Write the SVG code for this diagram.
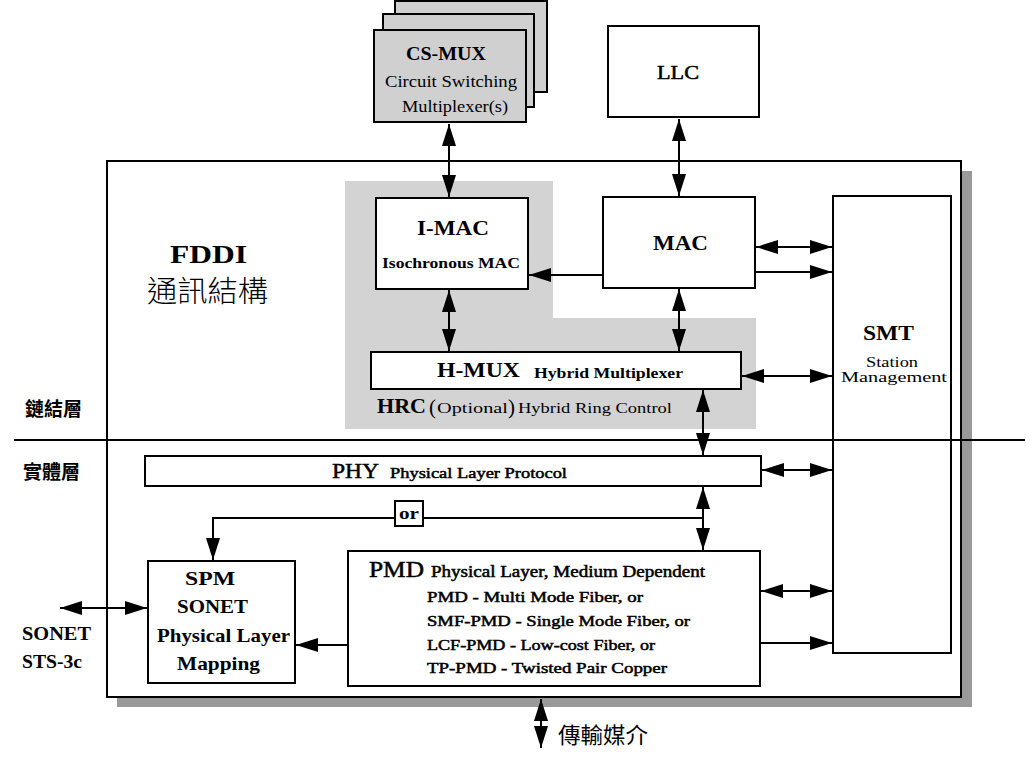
<svg xmlns="http://www.w3.org/2000/svg" width="1026" height="780" viewBox="0 0 1026 780">
<style>
.box{fill:#fff;stroke:#000;stroke-width:2}
.gbox{fill:#d0d0d0;stroke:#000;stroke-width:2}
.ln{fill:none;stroke:#000;stroke-width:2}
.arr{marker-end:url(#ah)}
.dbl{marker-start:url(#ah);marker-end:url(#ah)}
text{font-family:"Liberation Serif","Noto Serif",serif;fill:#000}
.b{font-weight:bold}
.m{stroke:#000;stroke-width:0.5}
.cjk{font-family:"Noto Sans CJK TC","Noto Sans CJK SC",sans-serif}
</style>
<defs>
<marker id="ah" markerUnits="userSpaceOnUse" markerWidth="22" markerHeight="14" refX="22" refY="7" orient="auto-start-reverse"><path d="M0,0 L22,7 L0,14 Z" fill="#000"/></marker>
</defs>
<rect width="1026" height="780" fill="#fff"/>
<g id="frame">
<rect x="117" y="171" width="855" height="536" fill="#999"/>
<rect class="box" x="107" y="161" width="854" height="536"/>
<polygon points="345,181 553,181 553,318 756,318 756,429 345,429" fill="#d3d3d3"/>
</g>
<g id="labels">
<text class="b" x="170" y="263" font-size="26" textLength="77" lengthAdjust="spacingAndGlyphs">FDDI</text>
<text class="cjk" x="147" y="302" font-size="29" font-weight="300" textLength="121" lengthAdjust="spacingAndGlyphs">通訊結構</text>
<text class="cjk" x="25" y="416" font-size="19" font-weight="bold" textLength="57" lengthAdjust="spacingAndGlyphs">鏈結層</text>
<text class="cjk" x="23" y="479" font-size="19" font-weight="bold" textLength="57" lengthAdjust="spacingAndGlyphs">實體層</text>
<text class="b" x="22" y="640" font-size="19" textLength="69" lengthAdjust="spacingAndGlyphs">SONET</text>
<text class="b" x="22" y="668" font-size="19" textLength="60" lengthAdjust="spacingAndGlyphs">STS-3c</text>
<text class="cjk" x="558" y="743" font-size="22" textLength="90" lengthAdjust="spacingAndGlyphs">傳輸媒介</text>
</g>
<g id="csmux">
<rect class="gbox" x="395" y="1" width="152" height="91"/>
<rect class="gbox" x="383" y="14" width="151" height="93"/>
<rect class="gbox" x="374" y="30" width="152" height="92"/>
<text class="b" x="406" y="60" font-size="19" textLength="80" lengthAdjust="spacingAndGlyphs">CS-MUX</text>
<text x="385" y="87" font-size="16" textLength="132" lengthAdjust="spacingAndGlyphs">Circuit Switching</text>
<text x="402" y="112" font-size="16" textLength="106" lengthAdjust="spacingAndGlyphs">Multiplexer(s)</text>
</g>
<g id="llc">
<rect class="box" x="608" y="26" width="151" height="91"/>
<text class="m" x="657" y="79" font-size="19" textLength="42" lengthAdjust="spacingAndGlyphs">LLC</text>
</g>
<g id="imac">
<rect class="box" x="376" y="198" width="152" height="91"/>
<text class="b" x="417" y="235" font-size="21" textLength="72" lengthAdjust="spacingAndGlyphs">I-MAC</text>
<text class="b" x="382" y="268" font-size="14" textLength="138" lengthAdjust="spacingAndGlyphs">Isochronous MAC</text>
</g>
<g id="mac">
<rect class="box" x="603" y="197" width="152" height="91"/>
<text class="b" x="653" y="250" font-size="21" textLength="55" lengthAdjust="spacingAndGlyphs">MAC</text>
</g>
<g id="hmux">
<rect class="box" x="371" y="352" width="370" height="37"/>
<text class="b" x="437" y="377" font-size="22" textLength="83" lengthAdjust="spacingAndGlyphs">H-MUX</text>
<text class="b" x="534" y="378" font-size="15" textLength="149" lengthAdjust="spacingAndGlyphs">Hybrid Multiplexer</text>
</g>
<g id="hrc">
<text class="b" x="377" y="413" font-size="21" textLength="49" lengthAdjust="spacingAndGlyphs">HRC</text>
<text x="429" y="414" font-size="21">(</text>
<text x="437" y="413" font-size="14" textLength="71" lengthAdjust="spacingAndGlyphs">Optional</text>
<text x="508" y="414" font-size="21">)</text>
<text x="518" y="413" font-size="15" textLength="154" lengthAdjust="spacingAndGlyphs">Hybrid Ring Control</text>
</g>
<g id="smt">
<rect class="box" x="833" y="196" width="118" height="457"/>
<text class="b" x="863" y="340" font-size="20" textLength="51" lengthAdjust="spacingAndGlyphs">SMT</text>
<text x="866" y="367" font-size="15" textLength="52" lengthAdjust="spacingAndGlyphs">Station</text>
<text x="841" y="382" font-size="15" textLength="106" lengthAdjust="spacingAndGlyphs">Management</text>
</g>
<g id="phy">
<rect class="box" x="145" y="456" width="616" height="30"/>
<text class="m" x="332" y="478" font-size="22" textLength="47" lengthAdjust="spacingAndGlyphs">PHY</text>
<text class="m" x="390" y="478" font-size="15" textLength="177" lengthAdjust="spacingAndGlyphs">Physical Layer Protocol</text>
</g>
<g id="pmd">
<rect class="box" x="348" y="551" width="412" height="135"/>
<text class="m" x="369" y="577" font-size="23" textLength="55" lengthAdjust="spacingAndGlyphs">PMD</text>
<text class="m" x="431" y="577" font-size="16" textLength="274" lengthAdjust="spacingAndGlyphs">Physical Layer, Medium Dependent</text>
<text class="m" x="427" y="602" font-size="15" textLength="216" lengthAdjust="spacingAndGlyphs">PMD - Multi Mode Fiber, or</text>
<text class="m" x="427" y="626" font-size="15" textLength="263" lengthAdjust="spacingAndGlyphs">SMF-PMD - Single Mode Fiber, or</text>
<text class="m" x="427" y="650" font-size="15" textLength="228" lengthAdjust="spacingAndGlyphs">LCF-PMD - Low-cost Fiber, or</text>
<text class="m" x="427" y="673" font-size="15" textLength="240" lengthAdjust="spacingAndGlyphs">TP-PMD - Twisted Pair Copper</text>
</g>
<g id="spm">
<rect class="box" x="148" y="561" width="147" height="122"/>
<text class="b" x="185" y="585" font-size="19" textLength="50" lengthAdjust="spacingAndGlyphs">SPM</text>
<text class="b" x="177" y="613" font-size="19" textLength="71" lengthAdjust="spacingAndGlyphs">SONET</text>
<text class="b" x="157" y="642" font-size="19" textLength="133" lengthAdjust="spacingAndGlyphs">Physical Layer</text>
<text class="b" x="177" y="670" font-size="19" textLength="83" lengthAdjust="spacingAndGlyphs">Mapping</text>
</g>
<g id="connectors">
<line class="ln dbl" x1="449" y1="124" x2="449" y2="197"/>
<line class="ln dbl" x1="679" y1="119" x2="679" y2="196"/>
<line class="ln arr" x1="603" y1="275" x2="529" y2="275"/>
<line class="ln dbl" x1="449" y1="290" x2="449" y2="351"/>
<line class="ln dbl" x1="679" y1="289" x2="679" y2="351"/>
<line class="ln dbl" x1="756" y1="247" x2="832" y2="247"/>
<line class="ln arr" x1="755" y1="272" x2="832" y2="272"/>
<line class="ln dbl" x1="742" y1="376" x2="832" y2="376"/>
<line class="ln dbl" x1="703" y1="390" x2="703" y2="455"/>
<line class="ln dbl" x1="762" y1="470" x2="832" y2="470"/>
<line class="ln dbl" x1="703" y1="487" x2="703" y2="550"/>
<polyline class="ln arr" points="703,518 213,518 213,560"/>
<line class="ln dbl" x1="761" y1="591" x2="832" y2="591"/>
<line class="ln arr" x1="760" y1="643" x2="832" y2="643"/>
<line class="ln arr" x1="348" y1="645" x2="296" y2="645"/>
<line class="ln dbl" x1="60" y1="608" x2="147" y2="608"/>
<line class="ln dbl" x1="541" y1="699" x2="541" y2="748"/>
<line class="ln" x1="14" y1="440" x2="1025" y2="440"/>
</g>
<g id="or">
<rect class="box" x="395" y="501" width="28" height="25"/>
<text class="b" x="399" y="519" font-size="16" textLength="20" lengthAdjust="spacingAndGlyphs">or</text>
</g>
</svg>
